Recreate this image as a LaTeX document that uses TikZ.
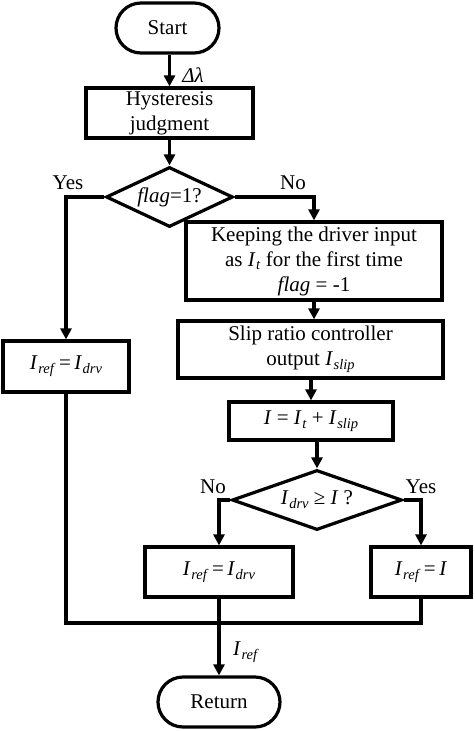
\documentclass[tikz,border=0pt]{standalone}
\usepackage{fontspec}
\setmainfont{Liberation Serif}
\usetikzlibrary{arrows.meta,shapes.misc,shapes.geometric}
\newcommand{\vI}[1]{\textit{I}\kern0.5pt\raisebox{-0.4ex}{\fontsize{14.5}{14.5}\selectfont\textit{#1}}}
\begin{document}
\begin{tikzpicture}[x=1pt,y=-1pt,
  every node/.style={font=\fontsize{21}{25}\selectfont, inner sep=0pt},
  boxx/.style={draw, line width=3.2pt, rectangle, align=center},
  term/.style={draw, line width=3.2pt, rounded rectangle, align=center},
  dia/.style={draw, line width=3.2pt, diamond},
  conn/.style={line width=3.2pt},
  arr/.style={line width=3.2pt, -{Triangle[length=11pt,width=11pt]}}]
\useasboundingbox (0,0) rectangle (474,731);
% nodes
\node[term, minimum width=103pt, minimum height=50pt] (start) at (167.5,28) {Start};
\node[boxx, minimum width=167pt, minimum height=50pt] (hyst) at (169.5,113) {Hysteresis\\judgment};
\node[dia, minimum width=127pt, minimum height=60pt] (d1) at (169.5,197) {};
\node (d1t) at (d1.center) {\textit{flag}=1?};
\node[boxx, minimum width=256pt, minimum height=78pt] (keep) at (314,261) {Keeping the driver input\\as \vI{t} for the first time\\\textit{flag} = -1};
\node[boxx, minimum width=265pt, minimum height=57pt] (slip) at (310.5,349.5) {Slip ratio controller\\output \vI{slip}};
\node[boxx, minimum width=164pt, minimum height=38pt] (ibox) at (311,421) {\textit{I} = \vI{t} + \vI{slip}};
\node[dia, minimum width=170pt, minimum height=60pt] (d2) at (317,500) {};
\node (d2t) at (d2.center) {\vI{drv} ≥ \textit{I} ?};
\node[boxx, minimum width=126pt, minimum height=51pt] (L1) at (66,366.5) {\vI{ref}\,=\,\vI{drv}};
\node[boxx, minimum width=148pt, minimum height=50pt] (M) at (219,572) {\vI{ref}\,=\,\vI{drv}};
\node[boxx, minimum width=100pt, minimum height=50pt] (R) at (421,572) {\vI{ref}\,=\,\textit{I}};
\node[term, minimum width=122pt, minimum height=50pt] (ret) at (219,702) {Return};
% labels
\node (dl) at (193,75) {\textit{Δλ}};
\node (yes1) at (68,183) {Yes};
\node (no1) at (293,183) {No};
\node (no2) at (213,487) {No};
\node (yes2) at (421,487) {Yes};
\node (iref) at (246,652) {\vI{ref}};
% junction coordinates
\coordinate (jl) at (66,623);
\coordinate (jm) at (219,623);
\coordinate (jr) at (421,623);
% connectors
\draw[arr] (start.south -| hyst.north) -- (hyst.north);
\draw[arr] (hyst.south) -- (d1.north);
\draw[arr] (d1.west) -| (L1.north);
\draw[arr] (d1.east) -| (keep.north);
\draw[arr] (keep.south) -- (keep.south |- slip.north);
\draw[arr] (slip.south -| ibox.north) -- (ibox.north);
\draw[arr] (ibox.south -| d2.north) -- (d2.north);
\draw[arr] (d2.west) -| (M.north);
\draw[arr] (d2.east) -| (R.north);
\draw[conn] (L1.south) -- (jl) -- (jr) -- (R.south);
\draw[conn] (M.south) -- (jm);
\draw[arr] (jm) -- (ret.north);
\end{tikzpicture}
\end{document}
